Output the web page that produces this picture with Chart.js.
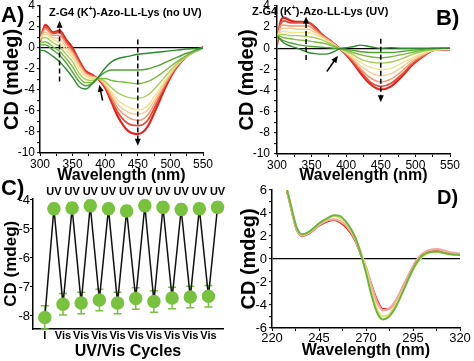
<!DOCTYPE html>
<html lang="en">
<head>
<meta charset="UTF-8">
<title>CD spectra of Z-G4 with Azo-LL-Lys</title>
<script src="https://cdn.jsdelivr.net/npm/chart.js"></script>
<style>
    body, html {
        margin: 0;
        padding: 0;
        width: 474px;
        height: 361px;
        overflow: hidden;
        background: #fff;
        font-family: "Liberation Sans", Arial, sans-serif;
    }
    canvas { position: absolute; }
    .lbl {
        position: absolute;
        font-weight: bold;
        line-height: 1;
        white-space: nowrap;
        color: #000;
    }
    .panel { font-size: 22px; }
    .ttl { font-size: 11px; }
    .ttl sup { font-size: 7px; }
</style>
</head>
<body>
<canvas id="chartA" width="215" height="185" style="left:0;top:0"></canvas>
<canvas id="chartB" width="240" height="185" style="left:234px;top:0"></canvas>
<canvas id="chartC" width="237" height="186" style="left:0;top:175px"></canvas>
<canvas id="chartD" width="237" height="186" style="left:237px;top:175px"></canvas>

<div class="lbl panel" style="left:1px;top:4px">A)</div>
<div class="lbl panel" style="left:436px;top:7px">B)</div>
<div class="lbl panel" style="left:1px;top:177px">C)</div>
<div class="lbl panel" style="left:437px;top:187px;font-size:20px">D)</div>
<div class="lbl ttl" style="left:49px;top:5px">Z-G4 (K<sup>+</sup>)-Azo-LL-Lys (no UV)</div>
<div class="lbl ttl" style="left:252px;top:4px">Z-G4 (K<sup>+</sup>)-Azo-LL-Lys (UV)</div>

<script>
    const FONT = '"Liberation Sans", Arial, sans-serif';

    // A) no UV, titration spectra (dark green -> red)
    const wlA = [300, 308, 320, 330, 340, 350, 360, 370, 380, 390, 400, 410, 420, 435, 450, 465, 480, 495, 510, 525, 540, 550];
    const cdA1 = [-0.2, -0.3, -0.8, -1.3, -2.0, -2.8, -3.7, -3.9, -3.4, -2.7, -1.9, -1.3, -1.0, -0.8, -0.6, -0.5, -0.4, -0.3, -0.2, -0.1, -0.05, 0];
    const cdA2 = [0.3, 0.3, -0.2, -0.7, -1.4, -2.3, -3.2, -3.6, -3.4, -2.8, -2.3, -2.1, -2.1, -2.1, -2.1, -2.0, -1.7, -1.3, -0.9, -0.5, -0.2, 0];
    const cdA3 = [0.5, 0.6, 0.1, -0.3, -1.0, -1.8, -2.8, -3.3, -3.3, -2.9, -2.9, -3.1, -3.2, -3.3, -3.4, -3.2, -2.7, -2.0, -1.3, -0.7, -0.2, 0];
    const cdA4 = [0.8, 1.0, 0.5, 0.1, -0.6, -1.3, -2.4, -3.0, -3.1, -2.9, -3.2, -3.8, -4.3, -4.7, -4.8, -4.5, -3.6, -2.5, -1.5, -0.8, -0.3, 0];
    const cdA5 = [0.9, 1.3, 0.8, 0.5, -0.2, -0.9, -2.0, -2.7, -2.9, -2.9, -3.4, -4.2, -5.0, -5.6, -5.9, -5.5, -4.2, -2.8, -1.6, -0.8, -0.3, 0];
    const cdA6 = [0.9, 1.5, 1.0, 0.9, 0.1, -0.6, -1.7, -2.5, -2.8, -2.9, -3.5, -4.4, -5.4, -6.1, -6.3, -5.9, -4.5, -2.9, -1.6, -0.8, -0.3, 0];
    const cdA7 = [0.8, 1.8, 1.2, 1.2, 0.4, -0.4, -1.5, -2.4, -2.7, -2.9, -3.6, -4.7, -5.8, -6.6, -6.9, -6.4, -4.8, -3.1, -1.7, -0.8, -0.3, 0];
    const cdA8 = [0.7, 2.0, 1.4, 1.5, 0.6, -0.2, -1.3, -2.3, -2.6, -3.0, -3.7, -5.0, -6.2, -7.2, -7.4, -6.9, -5.1, -3.2, -1.8, -0.8, -0.2, 0];
    const cdA9 = [0.6, 2.2, 1.5, 1.65, 0.8, 0.0, -1.2, -2.2, -2.55, -3.0, -3.8, -5.2, -6.6, -7.9, -8.2, -7.5, -5.5, -3.4, -1.8, -0.8, -0.2, 0.1];

    // B) UV, titration spectra
    const wlB = [300, 305, 310, 320, 330, 345, 355, 365, 375, 383, 390, 400, 410, 420, 435, 450, 465, 480, 495, 510, 525, 540, 550];
    const cdB1 = [1.1, 0.8, 0.5, 0.2, 0.0, -0.4, -0.5, -0.55, -0.5, -0.3, -0.05, 0.05, 0.15, 0.3, 0.15, 0.0, 0.05, 0, 0, 0, 0, 0, 0];
    const cdB2 = [1.2, 0.9, 0.7, 0.5, 0.35, 0.2, 0.15, 0.1, 0.05, 0.0, -0.05, -0.1, -0.2, -0.3, -0.4, -0.4, -0.4, -0.3, -0.2, -0.1, 0, 0, 0];
    const cdB3 = [1.2, 1.1, 1.0, 0.9, 0.8, 0.7, 0.6, 0.5, 0.35, 0.15, 0.0, -0.2, -0.4, -0.6, -0.8, -0.9, -0.8, -0.6, -0.4, -0.2, -0.1, 0, 0];
    const cdB4 = [1.2, 1.3, 1.3, 1.2, 1.2, 1.1, 1.0, 0.8, 0.5, 0.25, 0.0, -0.3, -0.6, -1.0, -1.3, -1.4, -1.3, -1.0, -0.6, -0.3, -0.1, 0, 0];
    const cdB5 = [1.1, 1.5, 1.6, 1.5, 1.5, 1.5, 1.3, 1.0, 0.6, 0.3, 0.0, -0.35, -0.8, -1.3, -1.8, -2.0, -1.9, -1.4, -0.9, -0.5, -0.2, -0.1, 0];
    const cdB6 = [1.0, 1.8, 1.9, 1.9, 1.8, 1.8, 1.5, 1.1, 0.7, 0.35, 0.0, -0.45, -1.0, -1.6, -2.3, -2.6, -2.4, -1.8, -1.1, -0.6, -0.2, -0.1, -0.1];
    const cdB7 = [0.8, 2.1, 2.2, 2.1, 2.1, 2.1, 1.7, 1.2, 0.75, 0.35, 0.0, -0.5, -1.1, -1.9, -2.8, -3.2, -2.9, -2.2, -1.3, -0.7, -0.2, -0.1, -0.1];
    const cdB8 = [0.5, 2.3, 2.6, 2.4, 2.4, 2.4, 1.9, 1.3, 0.8, 0.4, 0.0, -0.55, -1.3, -2.1, -3.2, -3.6, -3.3, -2.5, -1.5, -0.8, -0.2, -0.1, -0.1];
    const cdB9 = [0.3, 2.5, 2.9, 2.6, 2.5, 2.45, 2.0, 1.3, 0.8, 0.4, 0.0, -0.6, -1.4, -2.3, -3.4, -3.9, -3.6, -2.7, -1.6, -0.8, -0.2, -0.1, -0.1];

    const titrationColors = ['#2c8a2c', '#4ea333', '#7cba3e', '#a8cf5c', '#eee58e', '#f7cb92', '#f39a70', '#ea4a3b', '#e3201b'];

    // C) CD at 450 nm over UV/Vis cycles
    const cycleLabels = ['I', 'UV', 'Vis', 'UV', 'Vis', 'UV', 'Vis', 'UV', 'Vis', 'UV', 'Vis',
                         'UV', 'Vis', 'UV', 'Vis', 'UV', 'Vis', 'UV', 'Vis', 'UV'];
    const cycleCD = [-8.05, -4.3, -7.6, -4.28, -7.55, -4.2, -7.45, -4.3, -7.55, -4.38, -7.4,
                     -4.2, -7.5, -4.25, -7.38, -4.33, -7.35, -4.3, -7.32, -4.25];
    const cycleErr = [0.4, 0.18, 0.37, 0.18, 0.37, 0.18, 0.37, 0.18, 0.37, 0.18, 0.37,
                      0.18, 0.37, 0.18, 0.37, 0.18, 0.37, 0.18, 0.37, 0.18];

    // D) DNA region
    const wlD = [228, 230, 233, 236, 240, 245, 250, 253, 256, 260, 264, 267, 270, 273, 276, 279, 282, 286, 290, 294, 297, 300, 304, 308, 312, 316, 320];
    const cdDgreen = [6.0, 4.7, 2.8, 2.15, 2.4, 3.1, 3.6, 3.8, 3.75, 3.1, 2.0, 0.6, -1.2, -3.2, -4.7, -5.25, -5.05, -4.1, -2.7, -1.2, -0.3, 0.3, 0.6, 0.65, 0.5, 0.4, 0.35];
    const cdDyellow = [6.0, 4.6, 2.7, 2.1, 2.35, 3.05, 3.55, 3.75, 3.6, 3.0, 1.9, 0.7, -0.9, -2.9, -4.4, -5.0, -4.85, -3.9, -2.6, -1.3, -0.4, 0.2, 0.55, 0.6, 0.5, 0.4, 0.35];
    const cdDpink = [5.95, 4.6, 2.65, 2.05, 2.3, 2.95, 3.4, 3.45, 3.3, 2.8, 1.8, 0.55, -0.7, -2.4, -3.8, -4.45, -4.35, -3.6, -2.3, -1.0, -0.1, 0.45, 0.8, 0.85, 0.7, 0.55, 0.45];
    const cdDred = [5.9, 4.5, 2.6, 2.0, 2.25, 2.9, 3.3, 3.4, 3.2, 2.65, 1.7, 0.5, -0.8, -2.3, -3.6, -4.35, -4.35, -3.6, -2.3, -1.0, -0.1, 0.4, 0.7, 0.7, 0.55, 0.45, 0.4];
    const dColors = ['#6bb63d', '#e6e36a', '#f6a7a0', '#e0241c'];

    // tick positions (every other one carries a label)
    const xTicksAB = [300, 325, 350, 375, 400, 425, 450, 475, 500, 525, 550];
    const yTicksAB = [-10, -9, -8, -7, -6, -5, -4, -3, -2, -1, 0, 1, 2, 3, 4];
    const xTicksD = [220, 232.5, 245, 257.5, 270, 282.5, 295, 307.5, 320];
    const yTicksD = [-6, -5, -4, -3, -2, -1, 0, 1, 2, 3, 4, 5, 6];
    const yTicksC = [-8, -7, -6, -5, -4];

    // dashed guide arrows and the isosbestic pointer, in data units
    const arrowsA = [
        { from: [330, -3.2], to: [330, 2.6], dashed: true },
        { from: [450, 0.8], to: [450, -9.3], dashed: true },
        { from: [396, -5.0], to: [391, -3.5], dashed: false }
    ];
    const arrowsB = [
        { from: [342, -1.1], to: [342, 3.0], dashed: true },
        { from: [450, 0.9], to: [450, -5.1], dashed: true },
        { from: [372, -2.2], to: [388, -0.7], dashed: false }
    ];

    const overlay = {
        id: 'overlay',
        beforeDatasetsDraw(chart, args, opts) {
            if (!opts.errors) return;
            const { ctx, scales: { x, y } } = chart;
            const pts = chart.data.datasets[0].data;
            ctx.save();
            ctx.strokeStyle = opts.color;
            ctx.lineWidth = 1.5;
            opts.errors.forEach((e, i) => {
                const px = x.getPixelForValue(pts[i].x);
                const top = y.getPixelForValue(pts[i].y + e);
                const bot = y.getPixelForValue(pts[i].y - e);
                ctx.beginPath();
                ctx.moveTo(px, top); ctx.lineTo(px, bot);
                ctx.moveTo(px - 4, top); ctx.lineTo(px + 4, top);
                ctx.moveTo(px - 4, bot); ctx.lineTo(px + 4, bot);
                ctx.stroke();
            });
            ctx.restore();
        },
        afterDatasetsDraw(chart, args, opts) {
            if (!opts.arrows) return;
            const { ctx, scales: { x, y } } = chart;
            ctx.save();
            ctx.strokeStyle = '#000';
            ctx.fillStyle = '#000';
            ctx.lineWidth = 1.5;
            opts.arrows.forEach(a => {
                const x1 = x.getPixelForValue(a.from[0]), y1 = y.getPixelForValue(a.from[1]);
                const x2 = x.getPixelForValue(a.to[0]), y2 = y.getPixelForValue(a.to[1]);
                const ang = Math.atan2(y2 - y1, x2 - x1);
                const c = Math.cos(ang), s = Math.sin(ang);
                ctx.setLineDash(a.dashed ? [5, 3] : []);
                ctx.beginPath();
                ctx.moveTo(x1, y1);
                ctx.lineTo(x2 - 5 * c, y2 - 5 * s);
                ctx.stroke();
                ctx.setLineDash([]);
                ctx.beginPath();
                ctx.moveTo(x2, y2);
                ctx.lineTo(x2 - 7 * c + 3 * s, y2 - 7 * s - 3 * c);
                ctx.lineTo(x2 - 7 * c - 3 * s, y2 - 7 * s + 3 * c);
                ctx.closePath();
                ctx.fill();
            });
            ctx.restore();
        }
    };
    Chart.register(overlay);

    function noPad(s) {
        s.paddingTop = 0; s.paddingBottom = 0; s.paddingLeft = 0; s.paddingRight = 0;
    }

    function fixedTicks(values) {
        return s => { s.ticks = values.map(v => ({ value: v })); };
    }

    const everyOther = (v, i) => i % 2 === 0 ? v : '';

    function zeroGrid(ctx) {
        return ctx.tick && ctx.tick.value === 0 ? '#000' : 'rgba(0,0,0,0)';
    }

    function lineSets(wl, series, colors, widths) {
        return series.map((vals, i) => ({
            data: vals.map((v, k) => ({ x: wl[k], y: v })),
            borderColor: colors[i],
            borderWidth: widths[i],
            pointRadius: 0,
            fill: false,
            cubicInterpolationMode: 'monotone'
        }));
    }

    function spectrumChart(id, cfg) {
        return new Chart(document.getElementById(id).getContext('2d'), {
            type: 'line',
            data: { datasets: cfg.datasets },
            options: {
                responsive: false,
                animation: false,
                devicePixelRatio: 1,
                layout: { padding: cfg.padding },
                plugins: {
                    legend: { display: false },
                    tooltip: { enabled: false },
                    overlay: { arrows: cfg.arrows }
                },
                scales: {
                    x: {
                        type: 'linear',
                        min: cfg.xTicks[0], max: cfg.xTicks[cfg.xTicks.length - 1],
                        afterBuildTicks: fixedTicks(cfg.xTicks),
                        ticks: {
                            autoSkip: false, maxRotation: 0, color: '#000',
                            padding: cfg.xTickPad,
                            font: { family: FONT, size: cfg.tickSize },
                            callback: everyOther
                        },
                        grid: { drawOnChartArea: false, tickLength: 3, tickColor: '#000', tickWidth: 1 },
                        border: { color: '#000', width: 1.5 },
                        title: {
                            display: true, text: 'Wavelength (nm)', color: '#000',
                            font: { family: FONT, size: 16, weight: 'bold' },
                            padding: { top: 0, bottom: cfg.xTitlePad }
                        },
                        afterFit: s => { s.height = cfg.xHeight; noPad(s); }
                    },
                    y: {
                        min: cfg.yTicks[0], max: cfg.yTicks[cfg.yTicks.length - 1],
                        afterBuildTicks: fixedTicks(cfg.yTicks),
                        ticks: {
                            autoSkip: false, color: '#000',
                            padding: cfg.yTickPad,
                            font: { family: FONT, size: cfg.tickSize },
                            callback: everyOther
                        },
                        grid: { color: zeroGrid, lineWidth: 1.3, tickLength: 3, tickColor: '#000', tickWidth: 1 },
                        border: { color: '#000', width: 1.5 },
                        title: {
                            display: true, text: 'CD (mdeg)', color: '#000',
                            font: { family: FONT, size: 20, weight: 'bold' },
                            padding: { top: cfg.yTitlePad, bottom: 0 }
                        },
                        afterFit: s => { s.width = cfg.yWidth; noPad(s); }
                    }
                }
            }
        });
    }

    const titrationWidths = [1.4, 1.4, 1.4, 1.4, 1.4, 1.4, 1.5, 1.8, 2.2];

    spectrumChart('chartA', {
        datasets: lineSets(wlA, [cdA1, cdA2, cdA3, cdA4, cdA5, cdA6, cdA7, cdA8, cdA9], titrationColors, titrationWidths),
        arrows: arrowsA,
        padding: { top: 6, right: 12, bottom: 0, left: 0 },
        xTicks: xTicksAB, yTicks: yTicksAB,
        tickSize: 12, xTickPad: 1, yTickPad: 2,
        xHeight: 32, yWidth: 40, xTitlePad: 0, yTitlePad: 0
    });

    spectrumChart('chartB', {
        datasets: lineSets(wlB, [cdB1, cdB2, cdB3, cdB4, cdB5, cdB6, cdB7, cdB8, cdB9], titrationColors, titrationWidths),
        arrows: arrowsB,
        padding: { top: 6, right: 24, bottom: 0, left: 0 },
        xTicks: xTicksAB, yTicks: yTicksAB,
        tickSize: 12, xTickPad: 1, yTickPad: 4,
        xHeight: 31, yWidth: 43, xTitlePad: 0, yTitlePad: 1
    });

    spectrumChart('chartD', {
        datasets: lineSets(wlD, [cdDgreen, cdDyellow, cdDpink, cdDred], dColors, [2, 2, 2.4, 2]),
        padding: { top: 15, right: 14, bottom: 0, left: 0 },
        xTicks: xTicksD, yTicks: yTicksD,
        tickSize: 13, xTickPad: 0, yTickPad: 2,
        xHeight: 33, yWidth: 35, xTitlePad: 1, yTitlePad: 0
    });

    // C) switching cycles
    const cycleIdx = cycleLabels.map((l, i) => i);
    new Chart(document.getElementById('chartC').getContext('2d'), {
        type: 'line',
        data: {
            datasets: [{
                data: cycleCD.map((v, i) => ({ x: i, y: v })),
                borderColor: '#111',
                borderWidth: 1.5,
                pointRadius: 6,
                pointBackgroundColor: '#78c23e',
                pointBorderColor: '#78c23e',
                tension: 0,
                clip: false
            }]
        },
        options: {
            responsive: false,
            animation: false,
            devicePixelRatio: 1,
            layout: { padding: { top: 0, right: 14, bottom: 0, left: 0 } },
            plugins: {
                legend: { display: false },
                tooltip: { enabled: false },
                overlay: { errors: cycleErr, color: '#78c23e' }
            },
            scales: {
                x: {
                    type: 'linear', min: -1.3, max: 19.6,
                    afterBuildTicks: fixedTicks(cycleIdx),
                    ticks: {
                        autoSkip: false, maxRotation: 0, color: '#000', padding: 0,
                        font: { family: FONT, size: 11, weight: 'bold' },
                        callback: v => cycleLabels[v] === 'UV' ? '' : cycleLabels[v]
                    },
                    grid: { display: false, drawTicks: false },
                    border: { color: '#000', width: 1.5 },
                    title: {
                        display: true, text: 'UV/Vis Cycles', color: '#000',
                        font: { family: FONT, size: 16, weight: 'bold' },
                        padding: { top: 0, bottom: 0 }
                    },
                    afterFit: s => { s.height = 32; noPad(s); }
                },
                x2: {
                    type: 'linear', position: 'top', min: -1.3, max: 19.6,
                    afterBuildTicks: fixedTicks(cycleIdx),
                    ticks: {
                        autoSkip: false, maxRotation: 0, color: '#000', padding: 0,
                        font: { family: FONT, size: 11, weight: 'bold' },
                        callback: v => cycleLabels[v] === 'UV' ? 'UV' : ''
                    },
                    grid: { display: false, drawTicks: false },
                    border: { display: false },
                    afterFit: s => { s.height = 23.5; noPad(s); }
                },
                y: {
                    min: -8.45, max: -3.95,
                    afterBuildTicks: fixedTicks(yTicksC),
                    ticks: {
                        autoSkip: false, color: '#000', padding: 0,
                        font: { family: FONT, size: 13 }
                    },
                    grid: { drawOnChartArea: false, tickLength: 3, tickColor: '#000' },
                    border: { color: '#000', width: 1.5 },
                    title: {
                        display: true, text: 'CD (mdeg)', color: '#000',
                        font: { family: FONT, size: 17, weight: 'bold' },
                        padding: { top: 1, bottom: 0 }
                    },
                    afterFit: s => { s.width = 33; noPad(s); }
                }
            }
        }
    });
</script>
</body>
</html>
